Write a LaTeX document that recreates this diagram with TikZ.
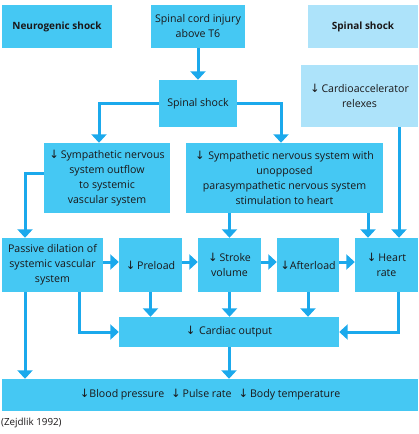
\documentclass[tikz,border=0pt]{standalone}
\usepackage{fontspec}
\setmainfont{Open Sans}
\newfontfamily\symfont{DejaVu Sans}
\usetikzlibrary{arrows.meta}
\newcommand{\dn}{{\symfont\fontsize{11.5}{14}\selectfont\char"2193}}
\definecolor{boxc}{HTML}{45C8F3}
\definecolor{lightc}{HTML}{ADE3FA}
\definecolor{linec}{HTML}{1BA9EC}
\definecolor{txtc}{HTML}{1A1718}
\tikzset{
  box/.style={fill=boxc, draw=none, inner sep=1pt, align=center, text=txtc,
    font=\fontsize{10.6}{15}\selectfont},
  lbox/.style={box, fill=lightc},
  conn/.style={draw=linec, line width=3pt, -{Triangle[width=15pt,length=8.5pt]}},
}
\begin{document}
\begin{tikzpicture}[x=1pt,y=-1pt]
\useasboundingbox (0,0) rectangle (419,434);
% top row
\node[box, minimum width=110pt, minimum height=43pt, font=\bfseries\fontsize{10}{14}\selectfont] (neuro) at (57,26.5) {Neurogenic shock};
\node[box, minimum width=94pt, minimum height=43pt] (injury) at (198,26.5) {Spinal cord injury\\above T6};
\node[lbox, minimum width=110pt, minimum height=43pt, font=\bfseries\fontsize{10}{14}\selectfont] (stop) at (363,26.5) {Spinal shock};
% second row
\node[box, minimum width=78pt, minimum height=47pt] (spinal) at (198,103.5) {Spinal shock};
\node[lbox, minimum width=117pt, minimum height=62pt] (cardio) at (359.5,96) {\dn\,Cardioaccelerator\\relexes};
% third row
\node[box, minimum width=126pt, minimum height=70pt] (symA) at (107,178) {\dn\,Sympathetic nervous\\system outflow\\to systemic\\vascular system};
\node[box, minimum width=197pt, minimum height=70pt] (symB) at (284.5,178) {\dn\,\,Sympathetic nervous system with\\unopposed\\parasympathetic nervous system\\stimulation to heart};
% fourth row
\node[box, minimum width=101pt, minimum height=54pt] (passive) at (52.5,265) {Passive dilation of\\systemic vascular\\system};
\node[box, minimum width=63pt, minimum height=54pt] (preload) at (150.5,265) {\dn\,Preload};
\node[box, minimum width=63pt, minimum height=54pt] (stroke) at (229.5,265) {\dn\,Stroke\\volume};
\node[box, minimum width=62pt, minimum height=54pt] (after) at (308,265) {\dn Afterload};
\node[box, minimum width=63pt, minimum height=54pt] (heart) at (386.5,265) {\dn\,Heart\\rate};
% cardiac output
\node[box, minimum width=220pt, minimum height=30pt] (cardiac) at (229,332) {\dn\,\,Cardiac output};
% bottom
\node[box, minimum width=416pt, minimum height=32pt] (bottom) at (210,395) {\dn Blood pressure\hspace{7pt}\dn\,Pulse rate\hspace{7pt}\dn\,Body temperature};
\node[anchor=west, inner sep=0pt, text=txtc, font=\fontsize{9.8}{12}\selectfont] (cite) at (1,423) {(Zejdlik 1992)};
% connectors
\draw[conn] (injury.south) -- (spinal.north);
\draw[conn] (spinal.west) -| ([xshift=-8pt]symA.north);
\draw[conn] (spinal.east) -| ([xshift=-3.5pt]symB.north);
\draw[conn] ([yshift=5pt]symA.west) -| ([xshift=-27.5pt]passive.north);
\draw[conn] (stroke.north |- symB.south) -- (stroke.north);
\draw[conn] ([xshift=-18.5pt]heart.north |- symB.south) -- ([xshift=-18.5pt]heart.north);
\draw[conn] ([xshift=12.5pt]heart.north |- cardio.south) -- ([xshift=12.5pt]heart.north);
\draw[conn] ([yshift=3pt]passive.east) -- ([yshift=3pt]preload.west);
\draw[conn] ([yshift=3pt]preload.east) -- ([yshift=3pt]stroke.west);
\draw[conn] ([yshift=3pt]stroke.east) -- ([yshift=3pt]after.west);
\draw[conn] ([yshift=3pt]after.east) -- ([yshift=3pt]heart.west);
\draw[conn] (preload.south) -- (preload.south |- cardiac.north);
\draw[conn] (stroke.south) -- (stroke.south |- cardiac.north);
\draw[conn] (after.south) -- (after.south |- cardiac.north);
\draw[conn] ([xshift=26.5pt]passive.south) |- (cardiac.west);
\draw[conn] ([xshift=11.5pt]heart.south) |- (cardiac.east);
\draw[conn] ([xshift=-27.5pt]passive.south) -- ([xshift=-27.5pt]passive.south |- bottom.north);
\draw[conn] (cardiac.south) -- (cardiac.south |- bottom.north);
\end{tikzpicture}
\end{document}
